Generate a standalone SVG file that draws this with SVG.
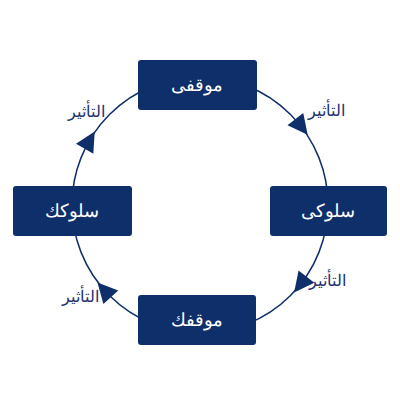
<svg xmlns="http://www.w3.org/2000/svg" width="400" height="400" viewBox="0 0 400 400">
<style>
.box{fill:#0f2f6b;}
.bt{fill:#ffffff;font-family:"DejaVu Serif","Noto Sans",serif;font-size:18px;text-anchor:middle;}
.lbl{fill:#1c2f6e;font-family:"DejaVu Serif","Noto Sans",serif;font-size:16px;text-anchor:middle;}
.ring{fill:none;stroke:#0f2f6b;stroke-width:1.5;}
.ah{fill:#0f2f6b;}
</style>
<defs>
<polygon id="arw" points="11,0 -9,-10 -9,10"/>
</defs>
<rect width="400" height="400" fill="#ffffff"/>
<g id="connectors">
<circle class="ring" cx="200" cy="205" r="128"/>
<use href="#arw" class="ah" transform="translate(300.9,126.2) rotate(52)"/>
<use href="#arw" class="ah" transform="translate(300.9,283.8) rotate(128)"/>
<use href="#arw" class="ah" transform="translate(104.8,290.6) rotate(228)"/>
<use href="#arw" class="ah" transform="translate(89.2,141) rotate(300)"/>
<text class="lbl" x="326" y="116">التأثير</text>
<text class="lbl" x="327" y="286">التأثير</text>
<text class="lbl" x="80" y="302">التأثير</text>
<text class="lbl" x="86" y="117">التأثير</text>
</g>
<g id="node-top">
<rect class="box" x="138" y="60" width="119" height="50" rx="3"/>
<text class="bt" x="197" y="91">موقفی</text>
</g>
<g id="node-right">
<rect class="box" x="270" y="186" width="117" height="50" rx="3"/>
<text class="bt" x="328" y="217">سلوکی</text>
</g>
<g id="node-bottom">
<rect class="box" x="138" y="295" width="118" height="50" rx="3"/>
<text class="bt" x="197" y="326">موقفك</text>
</g>
<g id="node-left">
<rect class="box" x="13" y="186" width="119" height="50" rx="3"/>
<text class="bt" x="72" y="217">سلوكك</text>
</g>
</svg>
